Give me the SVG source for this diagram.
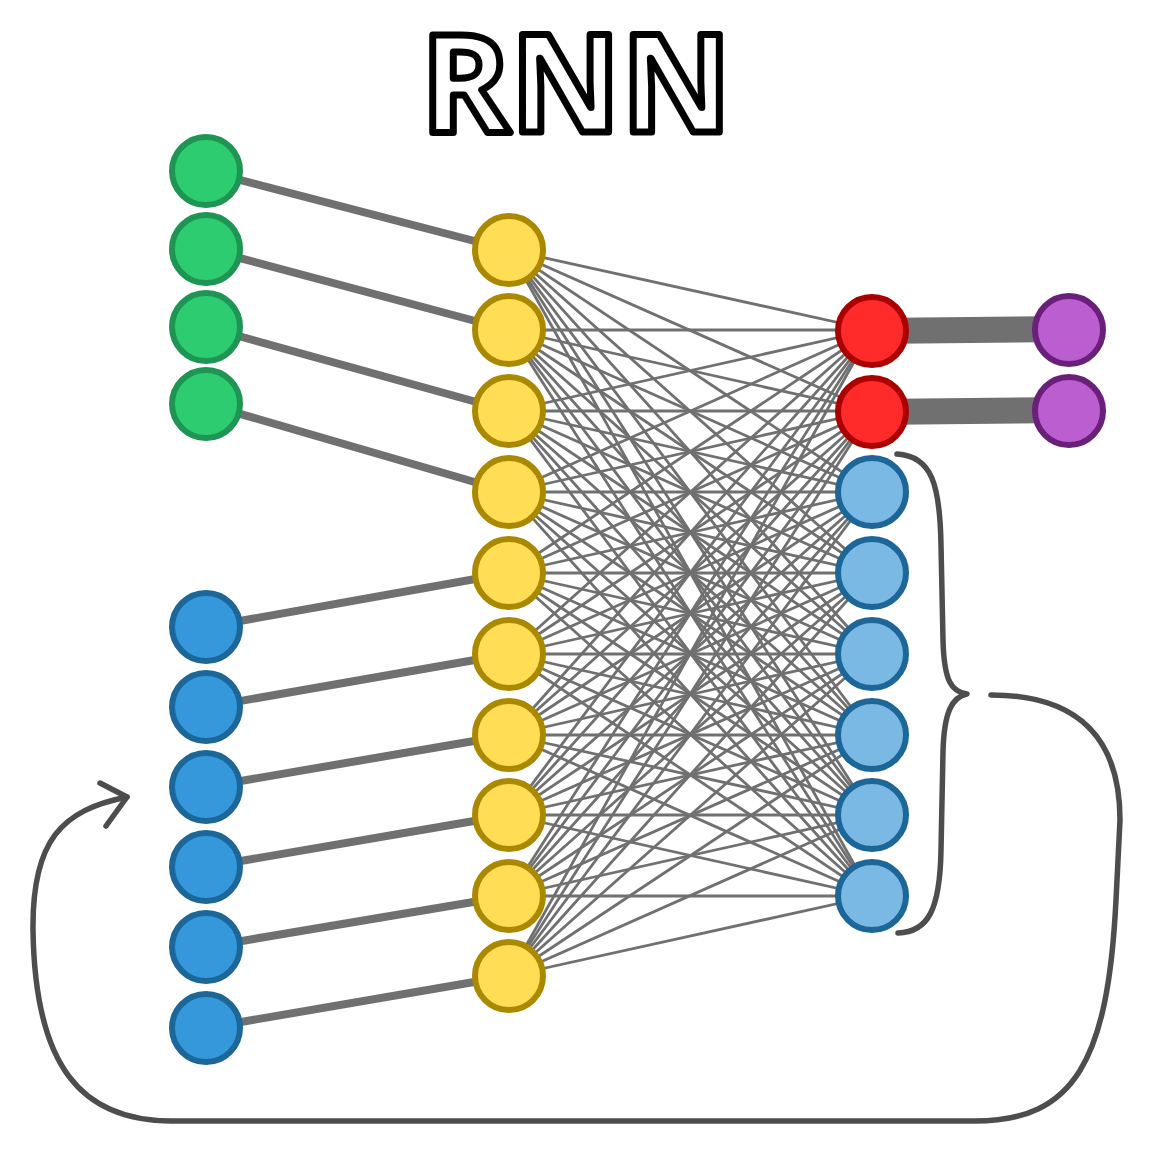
<svg xmlns="http://www.w3.org/2000/svg" width="1152" height="1152" viewBox="0 0 1152 1152">
<style>
.n{stroke-width:6}
.g{fill:#2ecc71;stroke:#1e9553}
.y{fill:#ffdd55;stroke:#aa8800}
.r{fill:#ff2a2a;stroke:#aa0000}
.p{fill:#bb5fd0;stroke:#6a1f7a}
.b{fill:#3498db;stroke:#1c6698}
.lb{fill:#7ab9e3;stroke:#1c6698}
.w{stroke:#707070;stroke-width:2.8}
.t{stroke:#707070;stroke-width:8}
.k{stroke:#707070;stroke-width:26}
.loop{fill:none;stroke:#4d4d4d;stroke-width:5.5;stroke-linecap:round;stroke-linejoin:round}
</style>
<rect width="1152" height="1152" fill="#ffffff"/>
<text x="576" y="132" text-anchor="middle" font-family="'Open Sans', 'DejaVu Sans', sans-serif" font-weight="700" font-size="136" fill="#ffffff" stroke="#000000" stroke-width="7" stroke-linejoin="round">RNN</text>
<g id="connectors">
<line class="t" x1="206" y1="171" x2="509" y2="250"/>
<line class="t" x1="206" y1="249" x2="509" y2="330"/>
<line class="t" x1="206" y1="327" x2="509" y2="411"/>
<line class="t" x1="206" y1="404" x2="509" y2="492"/>
<line class="t" x1="206" y1="627" x2="509" y2="573"/>
<line class="t" x1="206" y1="707" x2="509" y2="654"/>
<line class="t" x1="206" y1="787" x2="509" y2="735"/>
<line class="t" x1="206" y1="867" x2="509" y2="815"/>
<line class="t" x1="206" y1="947" x2="509" y2="896"/>
<line class="t" x1="206" y1="1028" x2="509" y2="976"/>
<line class="k" x1="872" y1="331" x2="1069" y2="329"/>
<line class="k" x1="872" y1="412" x2="1069" y2="410"/>
<g id="dense">
<line class="w" x1="509" y1="250" x2="872" y2="330"/><line class="w" x1="509" y1="250" x2="872" y2="411"/><line class="w" x1="509" y1="250" x2="872" y2="492"/><line class="w" x1="509" y1="250" x2="872" y2="573"/><line class="w" x1="509" y1="250" x2="872" y2="654"/><line class="w" x1="509" y1="250" x2="872" y2="735"/><line class="w" x1="509" y1="250" x2="872" y2="815"/><line class="w" x1="509" y1="250" x2="872" y2="896"/>
<line class="w" x1="509" y1="330" x2="872" y2="330"/><line class="w" x1="509" y1="330" x2="872" y2="411"/><line class="w" x1="509" y1="330" x2="872" y2="492"/><line class="w" x1="509" y1="330" x2="872" y2="573"/><line class="w" x1="509" y1="330" x2="872" y2="654"/><line class="w" x1="509" y1="330" x2="872" y2="735"/><line class="w" x1="509" y1="330" x2="872" y2="815"/><line class="w" x1="509" y1="330" x2="872" y2="896"/>
<line class="w" x1="509" y1="411" x2="872" y2="330"/><line class="w" x1="509" y1="411" x2="872" y2="411"/><line class="w" x1="509" y1="411" x2="872" y2="492"/><line class="w" x1="509" y1="411" x2="872" y2="573"/><line class="w" x1="509" y1="411" x2="872" y2="654"/><line class="w" x1="509" y1="411" x2="872" y2="735"/><line class="w" x1="509" y1="411" x2="872" y2="815"/><line class="w" x1="509" y1="411" x2="872" y2="896"/>
<line class="w" x1="509" y1="492" x2="872" y2="330"/><line class="w" x1="509" y1="492" x2="872" y2="411"/><line class="w" x1="509" y1="492" x2="872" y2="492"/><line class="w" x1="509" y1="492" x2="872" y2="573"/><line class="w" x1="509" y1="492" x2="872" y2="654"/><line class="w" x1="509" y1="492" x2="872" y2="735"/><line class="w" x1="509" y1="492" x2="872" y2="815"/><line class="w" x1="509" y1="492" x2="872" y2="896"/>
<line class="w" x1="509" y1="573" x2="872" y2="330"/><line class="w" x1="509" y1="573" x2="872" y2="411"/><line class="w" x1="509" y1="573" x2="872" y2="492"/><line class="w" x1="509" y1="573" x2="872" y2="573"/><line class="w" x1="509" y1="573" x2="872" y2="654"/><line class="w" x1="509" y1="573" x2="872" y2="735"/><line class="w" x1="509" y1="573" x2="872" y2="815"/><line class="w" x1="509" y1="573" x2="872" y2="896"/>
<line class="w" x1="509" y1="654" x2="872" y2="330"/><line class="w" x1="509" y1="654" x2="872" y2="411"/><line class="w" x1="509" y1="654" x2="872" y2="492"/><line class="w" x1="509" y1="654" x2="872" y2="573"/><line class="w" x1="509" y1="654" x2="872" y2="654"/><line class="w" x1="509" y1="654" x2="872" y2="735"/><line class="w" x1="509" y1="654" x2="872" y2="815"/><line class="w" x1="509" y1="654" x2="872" y2="896"/>
<line class="w" x1="509" y1="735" x2="872" y2="330"/><line class="w" x1="509" y1="735" x2="872" y2="411"/><line class="w" x1="509" y1="735" x2="872" y2="492"/><line class="w" x1="509" y1="735" x2="872" y2="573"/><line class="w" x1="509" y1="735" x2="872" y2="654"/><line class="w" x1="509" y1="735" x2="872" y2="735"/><line class="w" x1="509" y1="735" x2="872" y2="815"/><line class="w" x1="509" y1="735" x2="872" y2="896"/>
<line class="w" x1="509" y1="815" x2="872" y2="330"/><line class="w" x1="509" y1="815" x2="872" y2="411"/><line class="w" x1="509" y1="815" x2="872" y2="492"/><line class="w" x1="509" y1="815" x2="872" y2="573"/><line class="w" x1="509" y1="815" x2="872" y2="654"/><line class="w" x1="509" y1="815" x2="872" y2="735"/><line class="w" x1="509" y1="815" x2="872" y2="815"/><line class="w" x1="509" y1="815" x2="872" y2="896"/>
<line class="w" x1="509" y1="896" x2="872" y2="330"/><line class="w" x1="509" y1="896" x2="872" y2="411"/><line class="w" x1="509" y1="896" x2="872" y2="492"/><line class="w" x1="509" y1="896" x2="872" y2="573"/><line class="w" x1="509" y1="896" x2="872" y2="654"/><line class="w" x1="509" y1="896" x2="872" y2="735"/><line class="w" x1="509" y1="896" x2="872" y2="815"/><line class="w" x1="509" y1="896" x2="872" y2="896"/>
<line class="w" x1="509" y1="976" x2="872" y2="330"/><line class="w" x1="509" y1="976" x2="872" y2="411"/><line class="w" x1="509" y1="976" x2="872" y2="492"/><line class="w" x1="509" y1="976" x2="872" y2="573"/><line class="w" x1="509" y1="976" x2="872" y2="654"/><line class="w" x1="509" y1="976" x2="872" y2="735"/><line class="w" x1="509" y1="976" x2="872" y2="815"/><line class="w" x1="509" y1="976" x2="872" y2="896"/>
</g>
<path id="brace" class="loop" d="M897,454 C932,456 940,485 941,545 L943,640 C944,682 952,692 967,694 C952,697 944,712 943,752 L941,850 C940,910 928,932 898,933"/>
<path id="recurrence" class="loop" d="M991,695 C1080,695 1120,740 1120,820 L1116,900 C1108,1060 1075,1121 975,1121 L172,1121 C80,1121 35,1065 33,930 C32,840 62,810 127,797"/>
<path id="arrowhead" class="loop" d="M100,783 L127,797 L106,826"/>
</g>
<g id="input-green">
<circle id="g1" class="n g" cx="206" cy="171" r="34"/>
<circle id="g2" class="n g" cx="206" cy="249" r="34"/>
<circle id="g3" class="n g" cx="206" cy="327" r="34"/>
<circle id="g4" class="n g" cx="206" cy="404" r="34"/>
</g>
<g id="input-blue">
<circle id="b1" class="n b" cx="206" cy="627" r="34"/>
<circle id="b2" class="n b" cx="206" cy="707" r="34"/>
<circle id="b3" class="n b" cx="206" cy="787" r="34"/>
<circle id="b4" class="n b" cx="206" cy="867" r="34"/>
<circle id="b5" class="n b" cx="206" cy="947" r="34"/>
<circle id="b6" class="n b" cx="206" cy="1028" r="34"/>
</g>
<g id="hidden">
<circle id="y1" class="n y" cx="509" cy="250" r="34"/>
<circle id="y2" class="n y" cx="509" cy="330" r="34"/>
<circle id="y3" class="n y" cx="509" cy="411" r="34"/>
<circle id="y4" class="n y" cx="509" cy="492" r="34"/>
<circle id="y5" class="n y" cx="509" cy="573" r="34"/>
<circle id="y6" class="n y" cx="509" cy="654" r="34"/>
<circle id="y7" class="n y" cx="509" cy="735" r="34"/>
<circle id="y8" class="n y" cx="509" cy="815" r="34"/>
<circle id="y9" class="n y" cx="509" cy="896" r="34"/>
<circle id="y10" class="n y" cx="509" cy="976" r="34"/>
</g>
<g id="output-red">
<circle id="r1" class="n r" cx="872" cy="331" r="34"/>
<circle id="r2" class="n r" cx="872" cy="412" r="34"/>
</g>
<g id="output-state">
<circle id="s1" class="n lb" cx="872" cy="492" r="34"/>
<circle id="s2" class="n lb" cx="872" cy="573" r="34"/>
<circle id="s3" class="n lb" cx="872" cy="654" r="34"/>
<circle id="s4" class="n lb" cx="872" cy="735" r="34"/>
<circle id="s5" class="n lb" cx="872" cy="815" r="34"/>
<circle id="s6" class="n lb" cx="872" cy="896" r="34"/>
</g>
<g id="final-purple">
<circle id="p1" class="n p" cx="1069" cy="330" r="34"/>
<circle id="p2" class="n p" cx="1069" cy="411" r="34"/>
</g>
</svg>
